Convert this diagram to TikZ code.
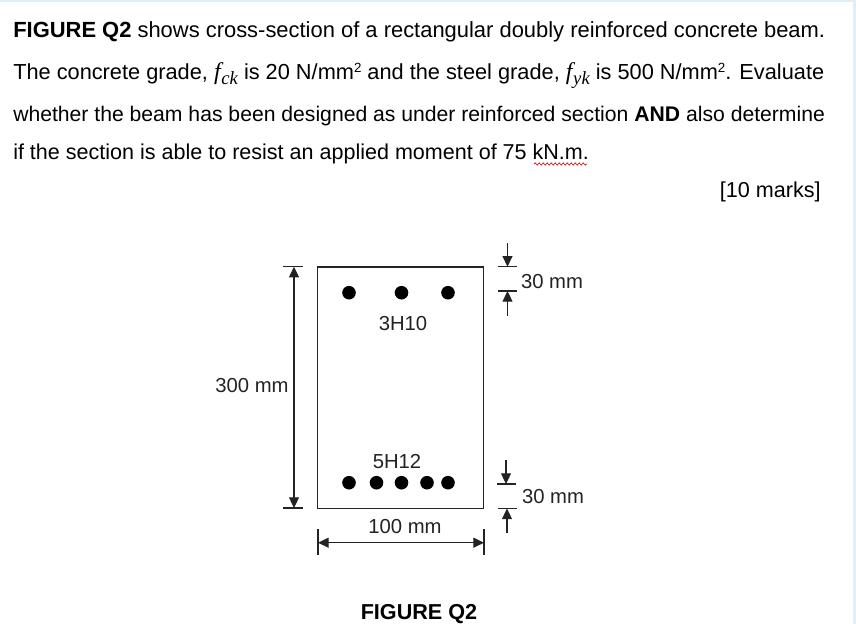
\documentclass[tikz,border=0pt]{standalone}
\usepackage{fontspec}
\setmainfont{Liberation Sans}
\newfontfamily\symbfont{Liberation Serif}
\usetikzlibrary{arrows.meta,decorations.pathmorphing}
\definecolor{framecol}{RGB}{221,240,248}
\definecolor{inkcol}{RGB}{35,35,35}
\newcommand{\grade}[2]{{\symbfont\itshape\fontsize{18}{20}\selectfont #1\kern0.5pt\raisebox{-3.5pt}{\fontsize{14}{16}\selectfont #2}}}
\newcommand{\sqr}{\raisebox{5.5pt}{\fontsize{10}{12}\selectfont 2}}
\tikzset{
  textline/.style={
    anchor=base west,
    inner sep=0pt,
    text=black
  },
  dimlabel/.style={
    anchor=center,
    inner sep=0pt,
    font=\fontsize{15.2}{18}\selectfont,
    text=inkcol
  },
  bar/.style={
    circle,
    fill=black,
    minimum size=10.2pt,
    inner sep=0pt
  },
  dimline/.style={
    draw=inkcol,
    line width=0.8pt
  },
  dimarrow/.style={
    dimline,
    -{Triangle[length=8pt,width=7.5pt]}
  },
  dimboth/.style={
    dimline,
    {Triangle[length=8pt,width=7.5pt]}-{Triangle[length=8pt,width=7.5pt]}
  },
}

\begin{document}
\begin{tikzpicture}[x=0.75pt,y=-0.75pt]
  % page
  \fill[framecol] (0,0) rectangle (856,624);
  \fill[white] (0,2) rectangle (853,624);
  \useasboundingbox (0,0) rectangle (856,624);
  % question text
  \node[textline, font=\fontsize{16.45}{20}\selectfont] (line1) at (13,38) {\textbf{FIGURE Q2} shows cross-section of a rectangular doubly reinforced concrete beam.};
  \node[textline, font=\fontsize{16.32}{20}\selectfont] (line2) at (13,80) {The concrete grade, \grade{f}{ck} is 20 N/mm\sqr{} and the steel grade, \grade{f}{yk} is 500 N/mm\sqr{}. Evaluate};
  \node[textline, font=\fontsize{15.87}{20}\selectfont] (line3) at (13,122) {whether the beam has been designed as under reinforced section \textbf{AND} also determine};
  \node[textline, font=\fontsize{16.15}{20}\selectfont] (line4) at (13,160) {if the section is able to resist an applied moment of 75 kN.m.};
  \node[textline, anchor=base east, font=\fontsize{16.2}{20}\selectfont] (marks) at (821,197) {[10 marks]};
  \draw[red!80!black, line width=0.5pt, decorate, decoration={snake,amplitude=0.8pt,segment length=3pt}] (534,164) -- (587,164);
  % section
  \node[draw=inkcol, line width=1pt, minimum width=124.5pt, minimum height=181pt, inner sep=0pt] (beam) at (400.75,387.5) {};
  \foreach \name/\xpos in {ta/349, tb/401.5, tc/448}
    \node[bar] (\name) at (\xpos,292.7) {};
  \foreach \name/\xpos in {ba/349, bb/376.5, bc/401.5, bd/427, be/448}
    \node[bar] (\name) at (\xpos,482.7) {};
  \node[dimlabel] (toplabel) at (403,324) {3H10};
  \node[dimlabel] (botlabel) at (397,462) {5H12};
  % overall depth
  \coordinate (da) at (283,266.7);
  \coordinate (db) at (303,266.7);
  \coordinate (dc) at (283,508);
  \coordinate (dd) at (303,508);
  \coordinate (de) at (294,266.7);
  \coordinate (df) at (294,508);
  \draw[dimline] (da) -- (db);
  \draw[dimline] (dc) -- (dd);
  \draw[dimboth] (de) -- (df);
  \node[dimlabel] (depth) at (252,386) {300 mm};
  % overall width
  \coordinate (wa) at (318,529);
  \coordinate (wb) at (318,555);
  \coordinate (wc) at (484,529);
  \coordinate (wd) at (484,555);
  \coordinate (we) at (318,542.7);
  \coordinate (wf) at (484,542.7);
  \draw[dimline] (wa) -- (wb);
  \draw[dimline] (wc) -- (wd);
  \draw[dimboth] (we) -- (wf);
  \node[dimlabel] (width) at (405,527) {100 mm};
  % top cover
  \coordinate (ca) at (498,266.7);
  \coordinate (cb) at (517,266.7);
  \coordinate (cc) at (498,291);
  \coordinate (cd) at (517,291);
  \coordinate (ce) at (507.5,243);
  \coordinate (cf) at (507.5,266.7);
  \coordinate (cg) at (507.5,316);
  \coordinate (ch) at (507.5,291);
  \draw[dimline] (ca) -- (cb);
  \draw[dimline] (cc) -- (cd);
  \draw[dimarrow] (ce) -- (cf);
  \draw[dimarrow] (cg) -- (ch);
  \node[dimlabel] (topcover) at (552,282) {30 mm};
  % bottom cover
  \coordinate (ga) at (497,484);
  \coordinate (gb) at (516,484);
  \coordinate (gc) at (498,508.5);
  \coordinate (gd) at (517,508.5);
  \coordinate (ge) at (506,460);
  \coordinate (gf) at (506,484);
  \coordinate (gg) at (507,533);
  \coordinate (gh) at (507,508.5);
  \draw[dimline] (ga) -- (gb);
  \draw[dimline] (gc) -- (gd);
  \draw[dimarrow] (ge) -- (gf);
  \draw[dimarrow] (gg) -- (gh);
  \node[dimlabel] (botcover) at (553,497) {30 mm};
  % caption
  \node[dimlabel, font=\fontsize{16.2}{18}\selectfont\bfseries, text=black] (caption) at (419,614) {FIGURE Q2};
\end{tikzpicture}
\end{document}
